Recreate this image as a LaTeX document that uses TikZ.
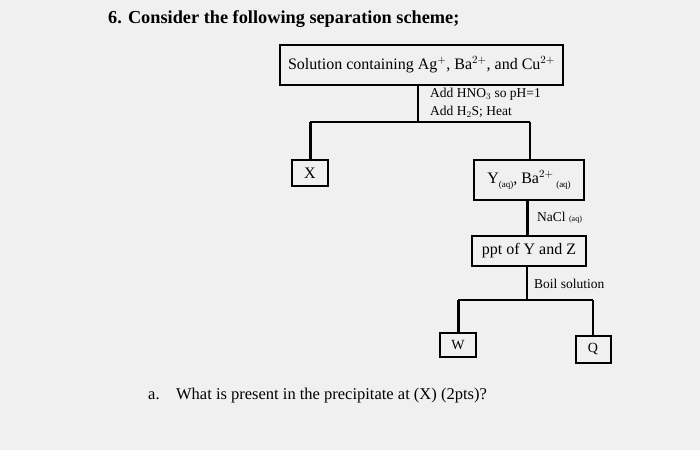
\documentclass[tikz,border=0pt]{standalone}
\usepackage{fontspec}
\setmainfont{Liberation Serif}
\begin{document}
\begin{tikzpicture}[x=1pt,y=-1pt,
  box/.style={draw,line width=2pt,inner sep=0pt,font=\fontsize{16}{18}\selectfont},
  lab/.style={anchor=west,inner sep=0pt,font=\fontsize{13.5}{15}\selectfont},
  ln/.style={line width=2pt}]
\fill[gray!12] (0,0) rectangle (700,450);
\useasboundingbox (0,0) rectangle (700,450);
\node[anchor=west,inner sep=0pt,font=\bfseries\fontsize{18.3}{21}\selectfont] (title) at (108,19) {6. Consider the following separation scheme;};
\node[box,minimum width=283,minimum height=40] (top) at (421.5,65) {Solution containing Ag$^{+}$, Ba$^{2+}$, and Cu$^{2+}$};
\coordinate (j1) at (418,122);
\coordinate (l1) at (310,122);
\coordinate (r1) at (530,122);
\node[box,minimum width=36,minimum height=26] (X) at (310,173) {X};
\node[box,minimum width=110,minimum height=40] (Y) at (529,180) {Y\raisebox{-4pt}{\fontsize{9}{10}\selectfont(aq)}, Ba$^{2+}$\,\raisebox{-4pt}{\fontsize{9}{10}\selectfont(aq)}};
\node[box,minimum width=114,minimum height=30] (ppt) at (529,251) {ppt of Y and Z};
\coordinate (j2) at (527,300);
\coordinate (l2) at (458,300);
\coordinate (r2) at (593,300);
\node[box,minimum width=36,minimum height=24,font=\fontsize{14}{16}\selectfont] (W) at (458,345) {W};
\node[box,minimum width=35,minimum height=27,font=\fontsize{14}{16}\selectfont] (Q) at (593,349) {Q};
\draw[ln] (top.south -| j1) -- (j1);
\draw[ln] (l1) -- (r1);
\draw[line width=3pt] (l1) -- (X.north);
\draw[ln] (r1) -- (r1 |- Y.north);
\draw[line width=3pt] (Y.south -| j2) -- (ppt.north -| j2);
\draw[ln] (ppt.south -| j2) -- (j2);
\draw[ln] (l2) -- (r2);
\draw[line width=3pt] (l2) -- (W.north);
\draw[ln] (r2) -- (Q.north);
\node[lab] (t1) at (430,94) {Add HNO$_3$ so pH=1};
\node[lab] (t2) at (430,112) {Add H$_2$S; Heat};
\node[lab] (t3) at (537,218) {NaCl {\fontsize{8}{9}\selectfont(aq)}};
\node[lab] (t4) at (534,284) {Boil solution};
\node[anchor=west,inner sep=0pt,font=\fontsize{16.5}{19}\selectfont] (qa) at (148,396) {a.\quad What is present in the precipitate at (X) (2pts)?};
\end{tikzpicture}
\end{document}
